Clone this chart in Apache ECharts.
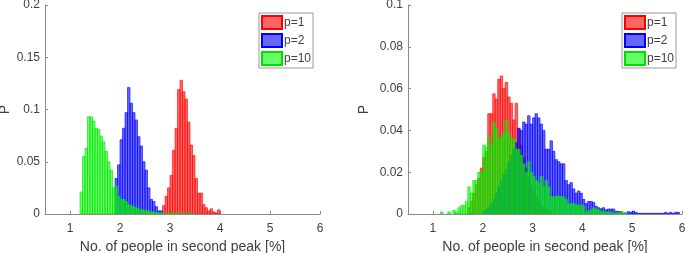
<!DOCTYPE html>
<html><head><meta charset="utf-8">
<script src="https://cdn.jsdelivr.net/npm/echarts@6/dist/echarts.min.js"></script>
<style>html,body{margin:0;padding:0;background:#fff}#c{width:685px;height:253px}</style>
</head><body><div id="c"></div>
<script>
// ---- data ----
const BIN_W = 0.05;
const NAMES = ['p=1', 'p=2', 'p=10'];
const X_TICKS = [1, 2, 3, 4, 5, 6];
const X_LABEL = 'No. of people in second peak [%]';
const Y_LABEL = 'P';

// left panel
const L_RED_START = 2.85;
const L_RED = [0.008,0.017,0.025,0.037,0.061,0.082,0.119,0.128,0.117,0.110,0.088,0.066,0.056,0.034,0.020,0.020,0.009,0.006,0.003,0.005,0.002,0.001,0.004];
const L_BLUE_START = 1.90;
const L_BLUE = [0.034,0.047,0.071,0.082,0.097,0.121,0.106,0.097,0.090,0.074,0.065,0.050,0.042,0.025,0.014,0.012,0.007,0.003,0.003];
const L_GREEN_START = 1.20;
const L_GREEN = [0.021,0.055,0.063,0.093,0.093,0.089,0.082,0.081,0.074,0.069,0.060,0.050,0.042,0.025,0.027,0.017,0.014,0.014,0.012,0.009,0.008,0.007,0.006,0.005,0.004,0.004,0.003,0.003,0.002,0.002,0.0015,0.001,0.001,0.001,0.0008,0.0008,0.0008,0.0006,0.0006,0.0006,0.0005,0.0005,0.0005,0.0004,0.0004,0.0004];

// right panel
const R_RED_START = 1.70;
const R_RED = [0.003,0.006,0.010,0.014,0.017,0.022,0.027,0.030,0.048,0.048,0.0575,0.055,0.0645,0.066,0.060,0.063,0.056,0.053,0.045,0.053,0.041,0.033,0.027,0.022,0.018,0.014,0.011,0.008,0.006,0.004,0.003,0.002,0.0015,0.001];
const R_BLUE_START = 2.00;
const R_BLUE = [0.001,0.002,0.003,0.005,0.007,0.010,0.013,0.016,0.019,0.021,
  0.025,0.028,0.031,0.034,0.041,0.040,0.044,0.043,0.047,0.043,
  0.046,0.048,0.046,0.043,0.040,0.031,0.031,0.035,0.030,0.026,
  0.025,0.024,0.024,0.016,0.014,0.015,0.012,0.010,0.011,0.010,
  0.007,0.005,0.006,0.006,0.0055,0.0037,0.003,0.0025,0.003,0.002,
  0.0024,0.0024,0.0024,0.0013,0.0012,0.0012,0.0005,0.0005,0.0011,0.0008,
  0.0014,0.0008,0.0003,0.0003,0.0003,0.0003,0.0003,0.0003,0.0003,0.0003,0.0003,0.0003,0.0003,
  0.0008,0.0003,0.0008,0.0003,0.0008,0.0008];
const R_GREEN_START = 1.15;
const R_GREEN = [0.001,0,0,0.001,0,0.0018,0.001,0.003,0.004,0.004,
  0.006,0.013,0.010,0.016,0.016,0.020,0.020,0.033,0.032,0.037,
  0.033,0.044,0.041,0.036,0.037,0.039,0.045,0.039,0.036,0.036,
  0.031,0.031,0.028,0.024,0.020,0.025,0.020,0.018,0.016,0.015,
  0.018,0.013,0.016,0.013,0.0085,0.008,0.0085,0.0085,0.0085,0.008,
  0.007,0.005,0.005,0.005,0.0045,0.004,0.0045,0.0037,0.0013,0.0015,
  0.002,0.003,0.0025,0.002,0.0013,0.0013,0.001,0.001,0.0008,0.0005,
  0.0005,0.0005,0.001,0.0005,0.0005];

// ---- styles ----
const FONT = 'Liberation Sans, Arial, sans-serif';
const TXT = '#404040';
const AX = '#8a8a8a';
const COLORS = [
  {fill: 'rgba(255,0,0,0.6)', stroke: '#ff0000'},
  {fill: 'rgba(0,0,255,0.6)', stroke: '#0000ff'},
  {fill: 'rgba(0,255,0,0.6)', stroke: '#00dd00'}
];

function bins(start, vals) {
  return vals.map((v, i) => [+(start + i * BIN_W).toFixed(4), v]);
}
function render(c) {
  return function (params, api) {
    const x0 = api.value(0), y = api.value(1);
    if (!y) return null;
    const a = api.coord([x0, y]);
    const b = api.coord([x0 + BIN_W, 0]);
    return {type: 'rect', shape: {x: a[0], y: a[1], width: b[0] - a[0], height: b[1] - a[1]},
      style: {fill: c.fill, stroke: c.stroke, lineWidth: 0.6}};
  };
}
function series(name, idx, start, vals, ci) {
  return {type: 'custom', name: name, xAxisIndex: idx, yAxisIndex: idx, clip: true,
    renderItem: render(COLORS[ci]), encode: {x: 0, y: 1},
    itemStyle: {color: COLORS[ci].fill, borderColor: COLORS[ci].stroke, borderWidth: 1},
    data: bins(start, vals)};
}
function xAxis(idx) {
  return {type: 'value', gridIndex: idx, min: 0.5, max: 6,
    axisLine: {show: true, onZero: false, lineStyle: {color: AX, width: 1}},
    axisTick: {show: true, inside: true, length: 3, customValues: X_TICKS, lineStyle: {color: AX}},
    axisLabel: {customValues: X_TICKS, color: TXT, fontSize: 12, fontFamily: FONT, margin: 9},
    splitLine: {show: false},
    name: X_LABEL, nameLocation: 'middle', nameGap: 25,
    nameTextStyle: {fontSize: 14, color: TXT, fontFamily: FONT}};
}
function yAxis(idx, max, interval, gap) {
  return {type: 'value', gridIndex: idx, min: 0, max: max, interval: interval,
    axisLine: {show: true, lineStyle: {color: AX, width: 1}},
    axisTick: {show: true, inside: true, length: 3, lineStyle: {color: AX}},
    axisLabel: {color: TXT, fontSize: 12, fontFamily: FONT, margin: 5},
    splitLine: {show: false},
    name: Y_LABEL, nameLocation: 'middle', nameGap: gap, nameRotate: 90,
    nameTextStyle: {fontSize: 14, color: TXT, fontFamily: FONT}};
}
function legend(left) {
  return {left: left, top: 13, orient: 'vertical', data: NAMES, icon: 'rect',
    itemWidth: 20, itemHeight: 13, itemGap: 3, padding: [2, 2, 2, 2],
    borderColor: '#999', borderWidth: 1, backgroundColor: '#fff',
    textStyle: {fontSize: 12, color: TXT, fontFamily: FONT, padding: [0, 0, 0, -3]},
    selectedMode: false};
}

const chart = echarts.init(document.getElementById('c'), null, {renderer: 'canvas'});
chart.setOption({
  backgroundColor: '#fff',
  animation: false,
  grid: [
    {left: 45, right: 365, top: 5, bottom: 39, containLabel: false, outerBoundsMode: 'none'},
    {left: 408, right: 3, top: 5, bottom: 39, containLabel: false, outerBoundsMode: 'none'}
  ],
  xAxis: [xAxis(0), xAxis(1)],
  yAxis: [yAxis(0, 0.2, 0.05, 33), yAxis(1, 0.1, 0.02, 37)],
  legend: [legend(259), legend(622)],
  series: [
    series(NAMES[0], 0, L_RED_START, L_RED, 0),
    series(NAMES[1], 0, L_BLUE_START, L_BLUE, 1),
    series(NAMES[2], 0, L_GREEN_START, L_GREEN, 2),
    series(NAMES[0], 1, R_RED_START, R_RED, 0),
    series(NAMES[1], 1, R_BLUE_START, R_BLUE, 1),
    series(NAMES[2], 1, R_GREEN_START, R_GREEN, 2)
  ]
});
</script></body></html>
